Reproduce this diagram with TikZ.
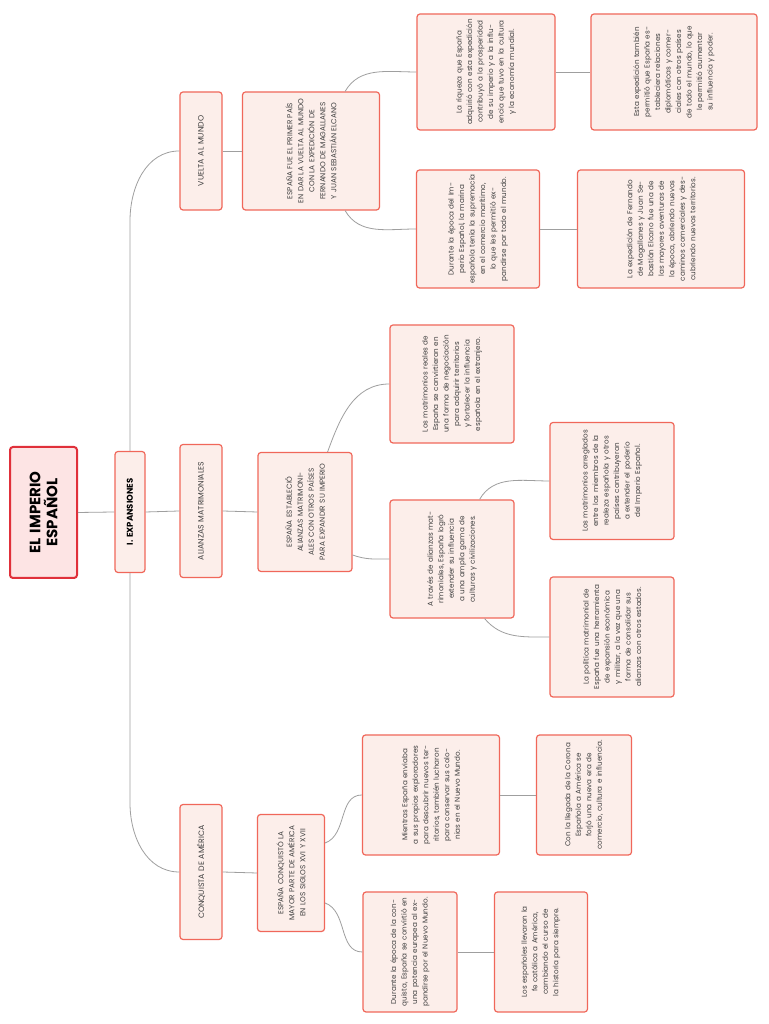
\documentclass[tikz,border=0pt]{standalone}
\usepackage{fontspec}
\setmainfont{Poppins}
\begin{document}
\begin{tikzpicture}[x=1pt,y=1pt,
  box/.style={draw=boxred,fill=boxfill,line width=1.2pt,rounded corners=3pt,rotate=90,align=center,inner sep=3pt,font=\fontsize{7.2}{10.5}\selectfont,text=black!75},
  link/.style={draw=gray!75,line width=0.8pt}]
\definecolor{boxred}{HTML}{F0675A}
\definecolor{boxfill}{HTML}{FCEEEA}
\definecolor{titred}{HTML}{E0303A}
\definecolor{titfill}{HTML}{FDE4E4}
\useasboundingbox (0,0) rectangle (768,1024);
\fill[white] (0,0) rectangle (768,1024);
\newcommand{\bx}[8]{\node[box,minimum width=#5pt,minimum height=#4pt,text width=#6pt,#7] (#1) at (#2,1024-#3) {#8};}
\bx{title}{43.5}{512.5}{67}{131}{125}{draw=titred,fill=titfill,line width=2pt,font=\fontsize{15}{17}\selectfont\bfseries,text=black}{EL IMPERIO\\ESPAÑOL}
\bx{exp}{130}{512}{30}{120}{115}{font=\fontsize{8.5}{10}\selectfont\bfseries,text=black}{I. EXPANSIONES}
\bx{vuelta}{201}{151}{42}{118}{110}{font=\fontsize{7.8}{10}\selectfont}{VUELTA AL MUNDO}
\bx{alianzas}{201}{511}{42}{133}{110}{font=\fontsize{7.8}{10}\selectfont}{ALIANZAS MATRIMONIALES}
\bx{conquista}{201}{872}{42}{135}{110}{font=\fontsize{7.8}{10}\selectfont}{CONQUISTA DE AMÉRICA}
\bx{espfue}{311}{151}{137}{118}{110}{font=\fontsize{7.3}{11}\selectfont}{ESPAÑA FUE EL PRIMER PAÍS EN DAR LA VUELTA AL MUNDO CON LA EXPEDICIÓN DE FERNANDO DE MAGALLANES Y JUAN SEBASTIÁN ELCANO}
\bx{espest}{305}{512}{94}{119}{112}{font=\fontsize{7.3}{11}\selectfont}{ESPAÑA ESTABLECIÓ ALIANZAS MATRIMONIALES CON OTROS PAÍSES PARA EXPANDIR SU IMPERIO}
\bx{espcon}{291}{873}{67}{117}{110}{font=\fontsize{7.3}{11}\selectfont}{ESPAÑA CONQUISTÓ LA MAYOR PARTE DE AMÉRICA EN LOS SIGLOS XVI Y XVII}
\bx{riqueza}{486}{72}{138}{116}{110}{}{La riqueza que España adquirió con esta expedición contribuyó a la prosperidad de su imperio y a la influencia que tuvo en la cultura y la economía mundial.}
\bx{esta}{674}{72}{166}{116}{108}{}{Esta expedición también permitió que España estableciera relaciones diplomáticas y comerciales con otros países de todo el mundo, lo que le permitió aumentar su influencia y poder.}
\bx{durante1}{478}{229}{123}{118}{110}{}{Durante la época del Imperio Español, la marina española tenía la supremacía en el comercio marítimo, lo que les permitió expandirse por todo el mundo.}
\bx{laexp}{661}{229}{167}{118}{110}{}{La expedición de Fernando de Magallanes y Juan Sebastián Elcano fue una de las mayores aventuras de la época, abriendo nuevos caminos comerciales y descubriendo nuevos territorios.}
\bx{matreales}{452}{384}{124}{118}{112}{}{Los matrimonios reales de España se convirtieron en una forma de negociación para adquirir territorios y fortalecer la influencia española en el extranjero.}
\bx{atraves}{452}{559}{124}{118}{112}{}{A través de alianzas matrimoniales, España logró extender su influencia a una amplia gama de culturas y civilizaciones.}
\bx{matarr}{612}{481}{124}{117}{110}{}{Los matrimonios arreglados entre los miembros de la realeza española y otros países contribuyeron a extender el poderío del Imperio Español.}
\bx{politica}{612}{637}{124}{119}{114}{}{La política matrimonial de España fue una herramienta de expansión económica y militar, a la vez que una forma de consolidar sus alianzas con otros estados.}
\bx{mientras}{431}{795}{137}{120}{112}{}{Mientras España enviaba a sus propios exploradores para descubrir nuevos territorios, también lucharon para conservar sus colonias en el Nuevo Mundo.}
\bx{conlleg}{584}{795}{95}{120}{112}{}{Con la llegada de la Corona Española a América se forjó una nueva era de comercio, cultura e influencia.}
\bx{durante2}{410}{952}{94}{120}{112}{}{Durante la época de la conquista, España se convirtió en una potencia europea al expandirse por el Nuevo Mundo.}
\bx{espanoles}{541}{952}{93}{120}{112}{}{Los españoles llevaron la fe católica a América, cambiando el curso de la historia para siempre.}
\begin{scope}[on background layer/.try]
\draw[link] (title.south) -- (exp.north);
\draw[link] (exp.east) -- ++(0,230) to[out=90,in=180] (vuelta.north);
\draw[link] (exp.south) -- (alianzas.north);
\draw[link] (exp.west) -- ++(0,-230) to[out=-90,in=180] (conquista.north);
\draw[link] (vuelta.south) -- (espfue.north);
\draw[link] (alianzas.south) -- (espest.north);
\draw[link] (conquista.south) -- (espcon.north);
\draw[link] ([xshift=-35pt]espfue.south east) to[out=60,in=180] (riqueza.north);
\draw[link] ([xshift=-35pt]espfue.south west) to[out=-60,in=180] (durante1.north);
\draw[link] (riqueza.south) -- (esta.north);
\draw[link] (durante1.south) -- (laexp.north);
\draw[link] ([xshift=-25pt]espest.south east) to[out=70,in=180] (matreales.north);
\draw[link] ([yshift=-43pt]espest.south) to[out=-20,in=180] (atraves.north);
\draw[link] ([xshift=-35pt]atraves.south east) to[out=60,in=180] (matarr.north);
\draw[link] ([xshift=-30pt]atraves.south west) to[out=-50,in=180] (politica.north);
\draw[link] (mientras.south) -- (conlleg.north);
\draw[link] (durante2.south) -- (espanoles.north);
\draw[link] ([yshift=30pt]espcon.south) to[out=20,in=180] (mientras.north);
\draw[link] ([yshift=-30pt]espcon.south) to[out=-20,in=180] (durante2.north);
\end{scope}
\end{tikzpicture}
\end{document}
